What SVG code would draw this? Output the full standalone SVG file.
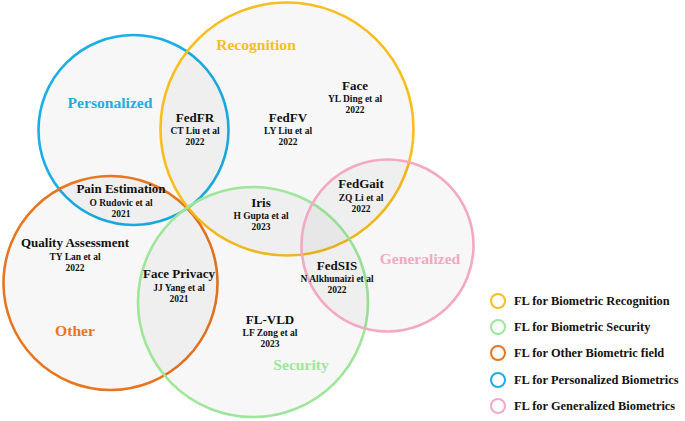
<svg xmlns="http://www.w3.org/2000/svg" width="685" height="421" viewBox="0 0 685 421">
<style>
.c{fill:#000;fill-opacity:0.03;stroke-width:2.6}
.t{font-family:"Liberation Serif","Times New Roman",serif;font-weight:bold;text-anchor:middle;fill:#111}
.h{font-size:13px}
.a{font-size:9.5px}
.g{font-family:"Liberation Serif","Times New Roman",serif;font-weight:bold;text-anchor:middle;font-size:15.6px}
.l{font-family:"Liberation Serif","Times New Roman",serif;font-weight:bold;font-size:12.4px;fill:#111}
.lc{fill:#fff;stroke-width:2}
</style>
<rect width="685" height="421" fill="#fff"/>
<g id="circles">
<g id="personalized"><circle class="c" cx="133.5" cy="130" r="95" stroke="#1aaee6"/></g>
<g id="other"><circle class="c" cx="110.5" cy="283" r="107" stroke="#e8751f"/></g>
<g id="recognition"><circle class="c" cx="287" cy="129" r="126.5" stroke="#f8bd1e"/></g>
<g id="security"><circle class="c" cx="253" cy="302" r="115" stroke="#9de69a"/></g>
<g id="generalized"><circle class="c" cx="387.5" cy="245.5" r="86" stroke="#f4a8c2"/></g>
</g>
<g id="group-labels">
<text class="g" x="256" y="50" fill="#f8bd1e">Recognition</text>
<text class="g" x="110" y="108" fill="#1aaee6">Personalized</text>
<text class="g" x="75" y="336" fill="#e8751f">Other</text>
<text class="g" x="301" y="370" fill="#9de69a">Security</text>
<text class="g" x="420" y="264" fill="#f4a8c2">Generalized</text>
</g>
<g id="connectors"/>
<g id="FedFR" class="t"><text class="h" x="195" y="122">FedFR</text><text class="a" x="195" y="134">CT Liu et al</text><text class="a" x="195" y="145">2022</text></g>
<g id="FedFV" class="t"><text class="h" x="288" y="122">FedFV</text><text class="a" x="288" y="134">LY Liu et al</text><text class="a" x="288" y="145">2022</text></g>
<g id="Face" class="t"><text class="h" x="355" y="90">Face</text><text class="a" x="355" y="102">YL Ding et al</text><text class="a" x="355" y="113">2022</text></g>
<g id="PainEstimation" class="t"><text class="h" x="121" y="193">Pain Estimation</text><text class="a" x="121" y="206">O Rudovic et al</text><text class="a" x="121" y="217">2021</text></g>
<g id="QualityAssessment" class="t"><text class="h" x="75" y="247">Quality Assessment</text><text class="a" x="75" y="260">TY Lan et al</text><text class="a" x="75" y="271">2022</text></g>
<g id="FacePrivacy" class="t"><text class="h" x="179" y="278">Face Privacy</text><text class="a" x="179" y="291">JJ Yang et al</text><text class="a" x="179" y="302">2021</text></g>
<g id="Iris" class="t"><text class="h" x="261" y="207">Iris</text><text class="a" x="261" y="219">H Gupta et al</text><text class="a" x="261" y="230">2023</text></g>
<g id="FedGait" class="t"><text class="h" x="361" y="188">FedGait</text><text class="a" x="361" y="201">ZQ Li et al</text><text class="a" x="361" y="212">2022</text></g>
<g id="FedSIS" class="t"><text class="h" x="337" y="270">FedSIS</text><text class="a" x="337" y="282">N Alkhunaizi et al</text><text class="a" x="337" y="293">2022</text></g>
<g id="FLVLD" class="t"><text class="h" x="270" y="324">FL-VLD</text><text class="a" x="270" y="336">LF Zong et al</text><text class="a" x="270" y="347">2023</text></g>
<g id="legend">
<circle class="lc" cx="498" cy="301" r="7" stroke="#f8bd1e"/><text class="l" x="514" y="305">FL for Biometric Recognition</text>
<circle class="lc" cx="498" cy="327" r="7" stroke="#9de69a"/><text class="l" x="514" y="331">FL for Biometric Security</text>
<circle class="lc" cx="498" cy="353" r="7" stroke="#e8751f"/><text class="l" x="514" y="357">FL for Other Biometric field</text>
<circle class="lc" cx="498" cy="380" r="7" stroke="#1aaee6"/><text class="l" x="514" y="384">FL for Personalized Biometrics</text>
<circle class="lc" cx="498" cy="406" r="7" stroke="#f4a8c2"/><text class="l" x="514" y="410">FL for Generalized Biometrics</text>
</g>
</svg>
